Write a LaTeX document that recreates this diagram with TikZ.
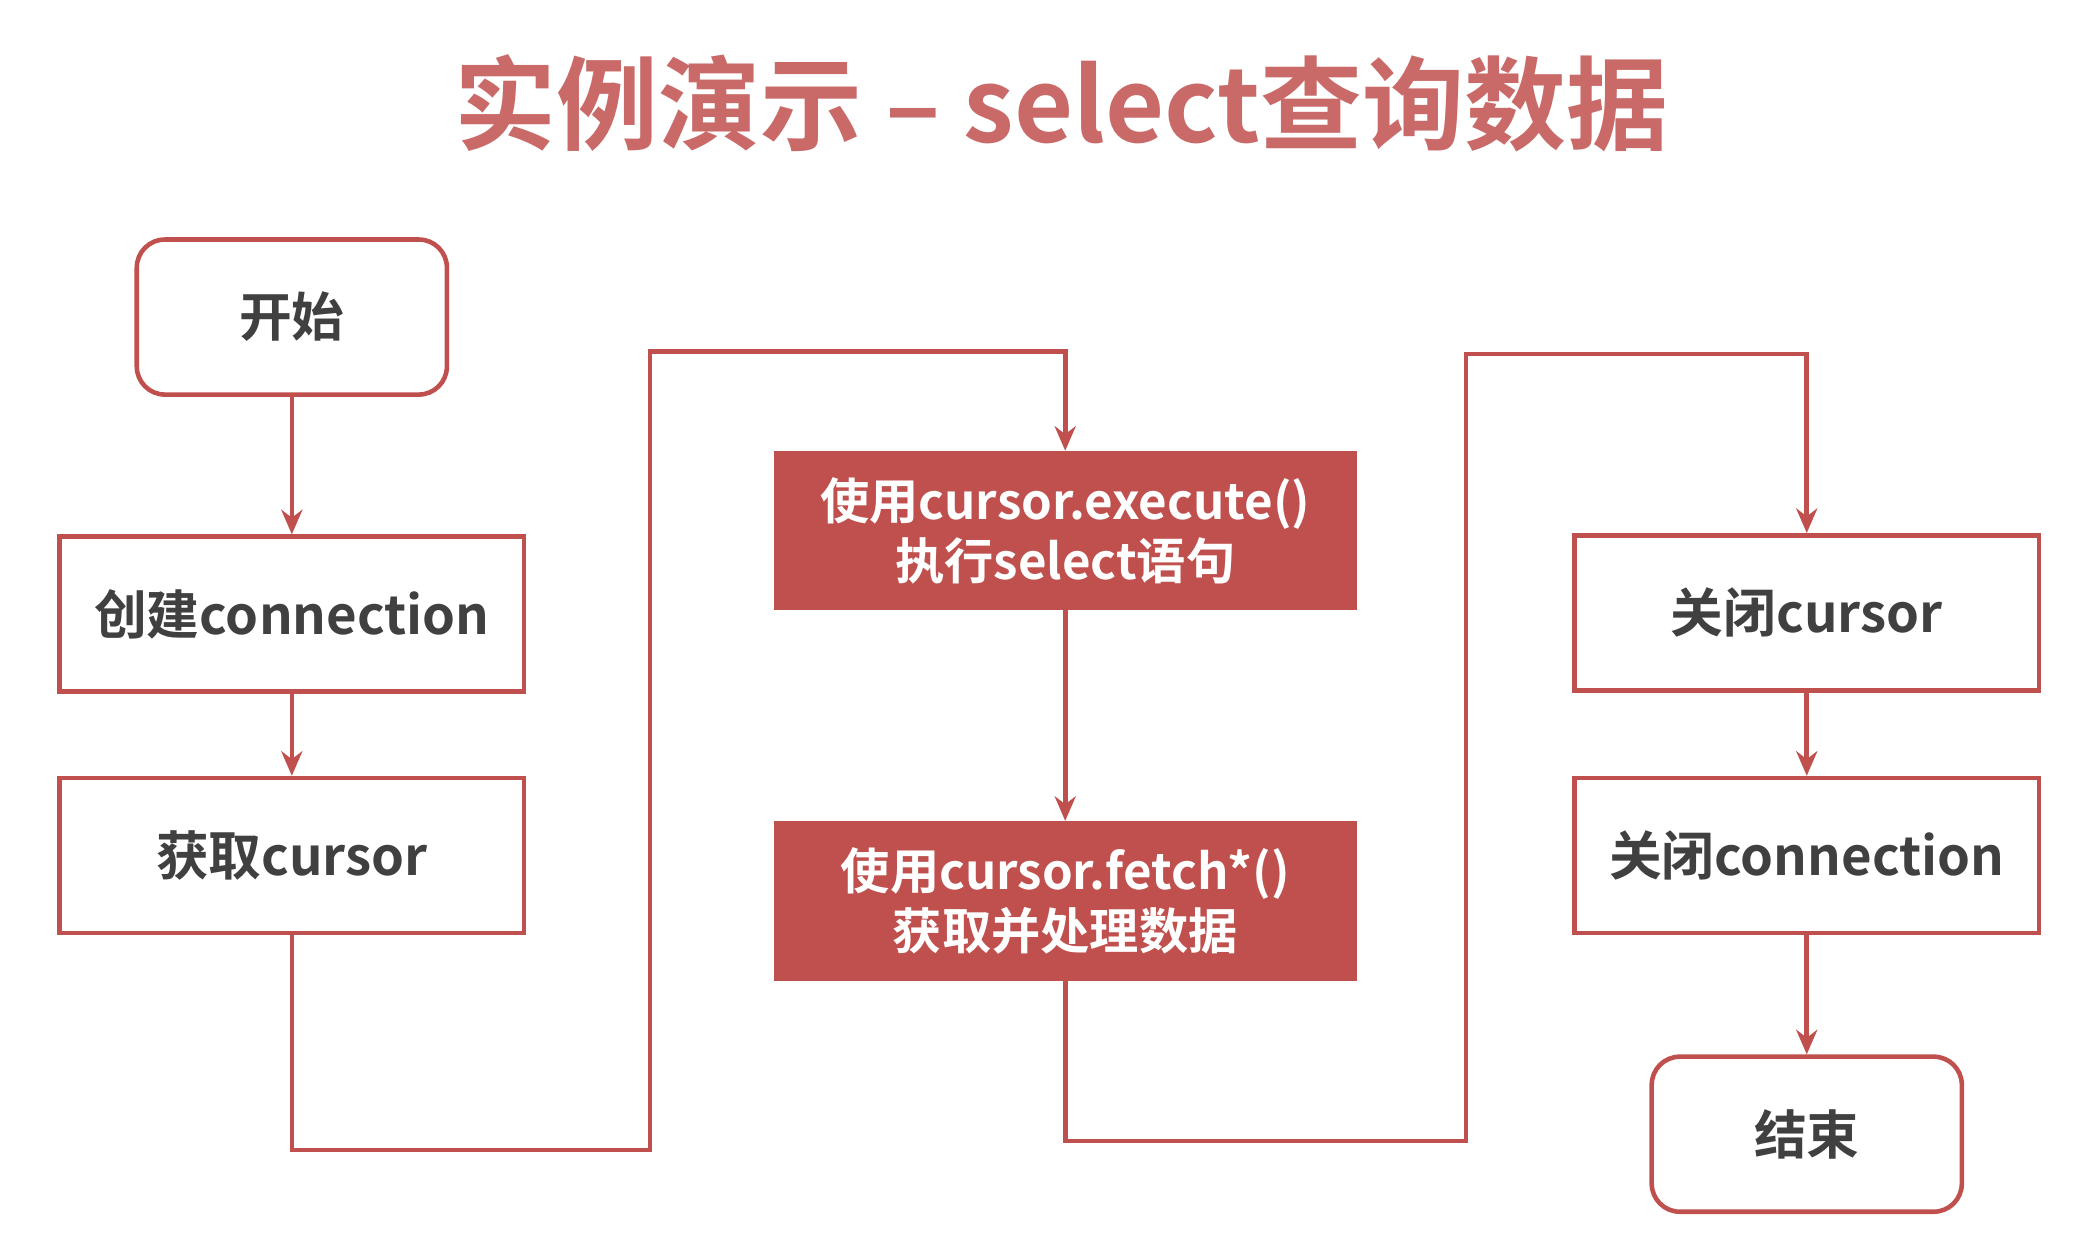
\documentclass[tikz,border=0pt]{standalone}
\usepackage{fontspec}
\setmainfont{Noto Sans CJK SC Bold}
\usetikzlibrary{arrows.meta}
\definecolor{dred}{HTML}{C0504D}
\definecolor{dtext}{HTML}{404040}
\tikzset{
  box/.style={draw=dred, line width=1.3pt, fill=white, minimum width=4.64cm, minimum height=1.55cm, font=\fontsize{15}{18}\selectfont, text=dtext},
  rbox/.style={box, rounded corners=8pt, minimum width=3.1cm},
  fbox/.style={box, fill=dred, text=white, minimum width=5.78cm, align=center, font=\fontsize{14}{17}\selectfont},
  line/.style={draw=dred, line width=1.3pt},
  arr/.style={line, -{Stealth[length=7pt,width=6pt]}}
}
\begin{document}
\begin{tikzpicture}[x=0.013265cm, y=-0.013265cm]
    \useasboundingbox (0,0) rectangle (1568,933);
    \node[text=dred!85, font=\fontsize{29}{35}\selectfont] (title) at (800,78) {实例演示 – select查询数据};

    \node[rbox] (u1) at (220,239) {开始};
    \node[box]  (u2) at (220,463) {创建connection};
    \node[box]  (u3) at (220,645) {获取cursor};
    \node[fbox] (u4) at (803,400) {使用cursor.execute()\\执行select语句};
    \node[fbox] (u5) at (803,679) {使用cursor.fetch*()\\获取并处理数据};
    \node[box]  (u6) at (1362,462) {关闭cursor};
    \node[box]  (u7) at (1362,645) {关闭connection};
    \node[rbox] (u8) at (1362,855) {结束};

    \coordinate (c1) at (220,867);
    \coordinate (c2) at (490,867);
    \coordinate (c3) at (490,265);
    \coordinate (c4) at (803,265);
    \coordinate (c5) at (803,860);
    \coordinate (c6) at (1105,860);
    \coordinate (c7) at (1105,267);
    \coordinate (c8) at (1362,267);

    \draw[arr] (u1) -- (u2);
    \draw[arr] (u2) -- (u3);
    \draw[arr] (u3.south) -- (c1) -- (c2) -- (c3) -- (c4) -- (u4.north);
    \draw[arr] (u4) -- (u5);
    \draw[arr] (u5.south) -- (c5) -- (c6) -- (c7) -- (c8) -- (u6.north);
    \draw[arr] (u6) -- (u7);
    \draw[arr] (u7) -- (u8);
\end{tikzpicture}
\end{document}
